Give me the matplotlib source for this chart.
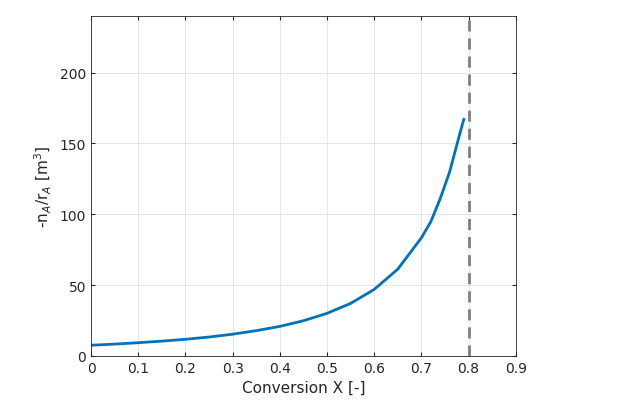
import matplotlib.pyplot as plt

# values
conversion = [0.0, 0.05, 0.1, 0.15, 0.2, 0.25, 0.3, 0.35, 0.4, 0.45, 0.5,
              0.55, 0.6, 0.65, 0.7, 0.72, 0.74, 0.76, 0.78, 0.79]
levenspiel = [7.5, 8.3, 9.3, 10.4, 11.7, 13.3, 15.3, 17.8, 20.8, 24.8, 30.0,
              37.0, 46.9, 61.2, 83.3, 94.7, 111.0, 130.0, 155.0, 167.0]
x_max = 0.8

fig = plt.figure(figsize=(6.32, 4.14), dpi=100)
ax = fig.add_axes([0.144, 0.138, 0.672, 0.821])

ax.plot(conversion, levenspiel, color='#0072BD', lw=2)
ax.axvline(x_max, color='#7f7f7f', ls='--', lw=2, dashes=(4, 2.5))

ax.set_xlim(0, 0.9)
ax.set_ylim(0, 240)
ax.set_xticks([i / 10 for i in range(10)])
ax.set_xticklabels(['0'] + [f'{i/10:g}' for i in range(1, 10)])
ax.set_yticks([0, 50, 100, 150, 200])
ax.grid(True, color='#e6e6e6', lw=0.7)
ax.set_axisbelow(True)
ax.tick_params(direction='in', labelsize=10, color='#262626', labelcolor='#262626',
               top=True, right=True, length=3)
for s in ax.spines.values():
    s.set_color('#262626')
    s.set_linewidth(0.6)

ax.set_xlabel('Conversion X [-]', fontsize=11, color='#262626')
ax.set_ylabel(r'-n$_A$/r$_A$ [m$^3$]', fontsize=11, color='#262626')

fig.savefig('out.png', dpi=100)
